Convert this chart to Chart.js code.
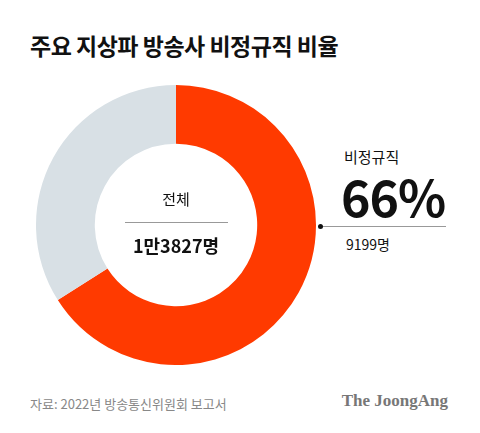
<!DOCTYPE html>
<html><head><meta charset="utf-8">
<script src="https://cdn.jsdelivr.net/npm/chart.js"></script>
<style>
body{margin:0;width:480px;height:433px;background:#fff;font-family:"Noto Sans CJK KR","Noto Sans",sans-serif;position:relative;overflow:hidden;color:#111}
.t{position:absolute;white-space:nowrap}
#wrap{position:absolute;left:36px;top:85px;width:280px;height:280px}
</style></head><body>
<div class="t" style="left:30px;top:28px;font-size:23px;font-weight:700;letter-spacing:-0.5px">주요 지상파 방송사 비정규직 비율</div>
<div id="wrap"><canvas id="c"></canvas></div>
<div class="t" style="left:125px;top:188px;width:102px;text-align:center;font-size:15px">전체</div>
<div style="position:absolute;left:125px;top:222px;width:103px;height:1px;background:#999"></div>
<div class="t" style="left:115px;top:232px;width:122px;text-align:center;font-size:18px;font-weight:700">1만3827명</div>
<div class="t" style="left:344px;top:146px;font-size:15px">비정규직</div>
<div class="t" style="left:341px;top:165px;font-size:50px;font-weight:700;letter-spacing:-1px;line-height:60px">66%</div>
<div style="position:absolute;left:320px;top:226px;width:126px;height:1px;background:#999"></div>
<div style="position:absolute;left:318px;top:224px;width:5px;height:5px;border-radius:50%;background:#111"></div>
<div class="t" style="left:346px;top:234px;font-size:14px">9199명</div>
<div class="t" style="left:30px;top:394px;font-size:13px;color:#888">자료: 2022년 방송통신위원회 보고서</div>
<div class="t" style="right:32px;top:391px;font-size:17px;font-weight:700;font-family:'Liberation Serif',serif;color:#777">The JoongAng</div>
<script>
const categories=["비정규직","정규직"];
const values=[66,34];
const colors=["#FF3A00","#D8E0E5"];
new Chart(document.getElementById('c'),{type:'doughnut',
data:{labels:categories,datasets:[{data:values,backgroundColor:colors,borderWidth:0}]},
options:{responsive:true,maintainAspectRatio:false,cutout:'58%',animation:false,
plugins:{legend:{display:false},tooltip:{enabled:false}},layout:{padding:0}}});
</script>
</body></html>
